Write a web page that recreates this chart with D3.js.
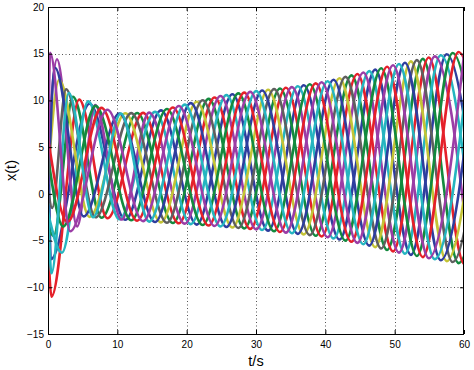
<!DOCTYPE html>
<html><head><meta charset="utf-8">
<script src="https://cdn.jsdelivr.net/npm/d3@7"></script>
<style>
body{margin:0;background:#fff}
svg{display:block}
text{font-family:"Liberation Sans",Arial,Helvetica,sans-serif}
</style>
</head><body>
<svg id="chart" width="474" height="370"></svg>
<script>
// ---- data: extrema [t, x] of each trajectory ----
const tickX = [0, 10, 20, 30, 40, 50, 60];
const tickY = [-15, -10, -5, 0, 5, 10, 15, 20];
const xLabel = "t/s";
const yLabel = "x(t)";
const lineColors = ["#2e3e9e", "#138a3e", "#e5202a", "#25b5c0", "#9b3da6", "#c4c435", "#5f5f5f",
                    "#2e3e9e", "#138a3e", "#e5202a", "#25b5c0", "#9b3da6"];

const x1 = [[0,12],[0.4,-7],[6.00,9.64],[11.15,-2.77],[16.30,8.93],[21.45,-3.29],[26.60,10.66],[31.75,-3.94],[36.90,11.63],[42.05,-4.89],[47.20,13.30],[52.35,-6.53],[57.50,14.95],[62.65,-7.82]];
const x2 = [[0,-3.5],[0.8,-4.5],[3.6,10.4],[7.72,-2.56],[12.87,8.66],[18.02,-3.12],[23.17,10.17],[28.32,-3.70],[33.47,11.28],[38.62,-4.49],[43.77,12.68],[48.92,-6.01],[54.07,14.45],[59.22,-7.41],[64.37,15.91]];
const x3 = [[0,-5],[0.5,-11],[4.5,10.1],[8.57,-2.61],[13.72,8.67],[18.87,-3.15],[24.02,10.32],[29.17,-3.75],[34.32,11.35],[39.47,-4.56],[44.62,12.83],[49.77,-6.16],[54.92,14.59],[60.07,-7.51],[65.22,16.0]];
const x4 = [[0,-2],[2.0,-6.3],[5.8,9.9],[10.29,-2.72],[15.44,8.78],[20.59,-3.24],[25.74,10.57],[30.89,-3.87],[36.04,11.52],[41.19,-4.77],[46.34,13.14],[51.49,-6.41],[56.64,14.83],[61.79,-7.72]];
const x5 = [[0,5],[1.3,14.4],[4.2,-3.5],[6.8,9.5],[10.6,-2.75],[14.58,8.69],[19.73,-3.19],[24.88,10.48],[30.03,-3.80],[35.18,11.42],[40.33,-4.65],[45.48,12.99],[50.63,-6.29],[55.78,14.71],[60.93,-7.61]];
const x6 = [[0,2],[1.6,12.2],[6.00,-2.46],[11.15,8.62],[16.30,-3.05],[21.45,9.86],[26.60,-3.60],[31.75,11.14],[36.90,-4.35],[42.05,12.37],[47.20,-5.70],[52.35,14.18],[57.50,-7.20],[62.65,15.67]];
const x7 = [[0,0.5],[0.6,-1.5],[2.6,11.2],[6.86,-2.51],[12.01,8.64],[17.16,-3.09],[22.31,10.02],[27.46,-3.65],[32.61,11.21],[37.76,-4.42],[42.91,12.52],[48.06,-5.85],[53.21,14.31],[58.36,-7.30],[63.51,15.79]];
const x8 = [[0,-1],[1.0,13.5],[5.14,-2.41],[10.29,8.6],[15.44,-3.02],[20.59,9.71],[25.74,-3.54],[30.89,11.07],[36.04,-4.28],[41.19,12.21],[46.34,-5.54],[51.49,14.04],[56.64,-7.10],[61.79,15.55]];
const x9 = [[0,4],[2.2,-3.5],[6.86,9.42],[12.01,-2.82],[17.16,9.09],[22.31,-3.34],[27.46,10.75],[32.61,-4.01],[37.76,11.73],[42.91,-5.01],[48.06,13.45],[53.21,-6.65],[58.36,15.07],[63.51,-7.92]];
const x10 = [[0,6],[2.8,-3.0],[7.71,9.2],[12.86,-2.87],[18.01,9.24],[23.16,-3.39],[28.31,10.83],[33.46,-4.08],[38.61,11.83],[43.76,-5.13],[48.91,13.60],[54.06,-6.77],[59.21,15.19],[64.36,-8.02]];
const x11 = [[0,-1],[0.5,-8.5],[3.0,10.8],[6.5,-2.5],[10.5,8.6],[14.58,-2.97],[19.73,9.55],[24.88,-3.49],[30.03,11.0],[35.18,-4.21],[40.33,12.06],[45.48,-5.39],[50.63,13.90],[55.78,-6.99],[60.93,15.43]];
const x12 = [[0,1],[0.3,15.1],[3.2,-4.0],[8.57,9.0],[13.72,-2.92],[18.87,9.40],[24.02,-3.44],[29.17,10.92],[34.32,-4.15],[39.47,11.94],[44.62,-5.25],[49.77,13.76],[54.92,-6.89],[60.07,15.31]];
const series = [x1, x2, x3, x4, x5, x6, x7, x8, x9, x10, x11, x12];

// ---- layout ----
const L = 48, R = 464, T = 7, B = 334;
const svg = d3.select("#chart");
const x = d3.scaleLinear().domain([0, 60]).range([L, R]);
const y = d3.scaleLinear().domain([-15, 20]).range([B, T]);

svg.append("rect").attr("width", 474).attr("height", 370).attr("fill", "#fff");

svg.append("defs").append("clipPath").attr("id", "clip")
  .append("rect").attr("x", L).attr("y", T).attr("width", R - L).attr("height", B - T);

// grid
const grid = svg.append("g").attr("stroke", "#555").attr("stroke-width", 1)
  .attr("stroke-dasharray", "1,2.5");
grid.selectAll(".gx").data(tickX.slice(1, -1)).join("line")
  .attr("x1", d => Math.round(x(d)) + 0.5).attr("x2", d => Math.round(x(d)) + 0.5)
  .attr("y1", T).attr("y2", B);
grid.selectAll(".gy").data(tickY.slice(1, -1)).join("line")
  .attr("y1", d => Math.round(y(d)) + 0.5).attr("y2", d => Math.round(y(d)) + 0.5)
  .attr("x1", L).attr("x2", R);

// curves
const line = d3.line().x(d => x(d[0])).y(d => y(d[1])).curve(d3.curveMonotoneX);
svg.append("g").attr("clip-path", "url(#clip)")
  .selectAll("path").data(series).join("path")
  .attr("d", line)
  .attr("fill", "none")
  .attr("stroke", (d, i) => lineColors[i])
  .attr("stroke-width", 2.6)
  .attr("stroke-linejoin", "round");

// axes (ticks inward, box)
const fmt = d3.format("");
const ax = svg.append("g").attr("font-size", 12.5);
ax.append("g").attr("transform", `translate(0,${B})`)
  .call(d3.axisBottom(x).tickValues(tickX).tickSize(-4).tickPadding(7).tickFormat(fmt))
  .call(g => g.select(".domain").remove());
ax.append("g").attr("transform", `translate(${L},0)`)
  .call(d3.axisLeft(y).tickValues(tickY).tickSize(-4).tickPadding(4).tickFormat(fmt))
  .call(g => g.select(".domain").remove());
ax.append("g").attr("transform", `translate(0,${T})`)
  .call(d3.axisTop(x).tickValues(tickX).tickSize(-4).tickFormat(""))
  .call(g => g.select(".domain").remove());
ax.append("g").attr("transform", `translate(${R},0)`)
  .call(d3.axisRight(y).tickValues(tickY).tickSize(-4).tickFormat(""))
  .call(g => g.select(".domain").remove());
ax.selectAll("text").attr("fill", "#000").attr("font-family", '"Liberation Sans",Arial,sans-serif');
ax.selectAll("line").attr("stroke", "#000");

svg.append("rect").attr("x", L + 0.5).attr("y", T + 0.5)
  .attr("width", R - L - 1).attr("height", B - T).attr("fill", "none")
  .attr("stroke", "#000").attr("stroke-width", 1);

// labels
svg.append("text").attr("x", (L + R) / 2).attr("y", 366).attr("text-anchor", "middle")
  .attr("font-size", 14.5).text(xLabel);
svg.append("text").attr("transform", `translate(16,${(T + B) / 2}) rotate(-90)`)
  .attr("text-anchor", "middle").attr("font-size", 14.5).text(yLabel);
</script>
</body></html>
